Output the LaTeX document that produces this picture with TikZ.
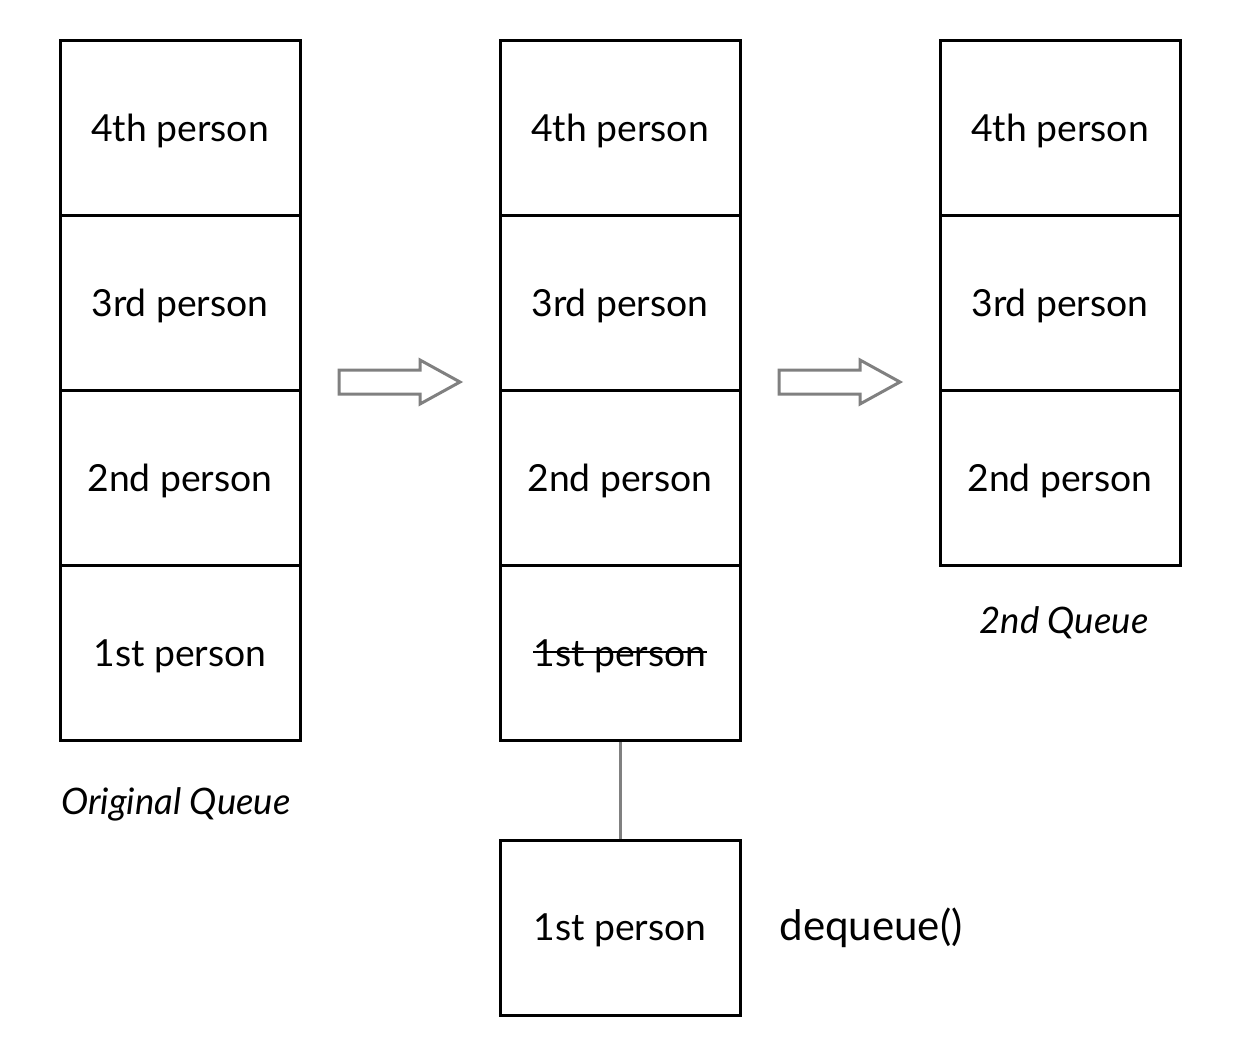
\documentclass[tikz,border=0pt]{standalone}
\usepackage{fontspec}
\setmainfont{Lato}
\usetikzlibrary{positioning}
\begin{document}
\begin{tikzpicture}[x=1pt,y=-1pt,
  cell/.style={draw=black,line width=3pt,minimum width=240pt,minimum height=175pt,inner sep=0pt,text depth=0pt,font=\fontsize{37.3}{42}\selectfont},
  blockarrow/.style={draw=black!50,line width=3pt,line join=miter},
  lbl/.style={font=\fontsize{36.5}{40}\selectfont\itshape},
  link/.style={draw=black!50,line width=3pt}]
\useasboundingbox (0,0) rectangle (1240,1055);
% column 1
\node[cell] (a4) at (180,127.5) {4th person};
\node[cell] (a3) at (180,302.5) {3rd person};
\node[cell] (a2) at (180,477.5) {2nd person};
\node[cell] (a1) at (180,653) {1st person};
% column 2
\node[cell] (b4) at (620,127.5) {4th person};
\node[cell] (b3) at (620,302.5) {3rd person};
\node[cell] (b2) at (620,477.5) {2nd person};
\node[cell] (b1) at (620,653) {1st person};
% column 3
\node[cell] (c4) at (1060,127.5) {4th person};
\node[cell] (c3) at (1060,302.5) {3rd person};
\node[cell] (c2) at (1060,477.5) {2nd person};
% dequeued
\node[cell] (d1) at (620,927.5) {1st person};
\draw[link] (b1.south) -- (d1.north);
% strike-through
\coordinate (s1) at (533,652);
\coordinate (s2) at (707,652);
\draw[line width=2pt] (s1) -- (s2);
% labels
\node[lbl] (l1) at (176,804) {Original Queue};
\node[lbl] (l2) at (1064,623) {2nd Queue};
\node[font=\fontsize{42}{46}\selectfont] (dq) at (871,928) {dequeue()};
% block arrows
\draw[blockarrow] (339,370) -- (420,370) -- (420,360) -- (460,382) -- (420,404) -- (420,394) -- (339,394) -- cycle;
\draw[blockarrow] (779,370) -- (860,370) -- (860,360) -- (900,382) -- (860,404) -- (860,394) -- (779,394) -- cycle;
\end{tikzpicture}
\end{document}
